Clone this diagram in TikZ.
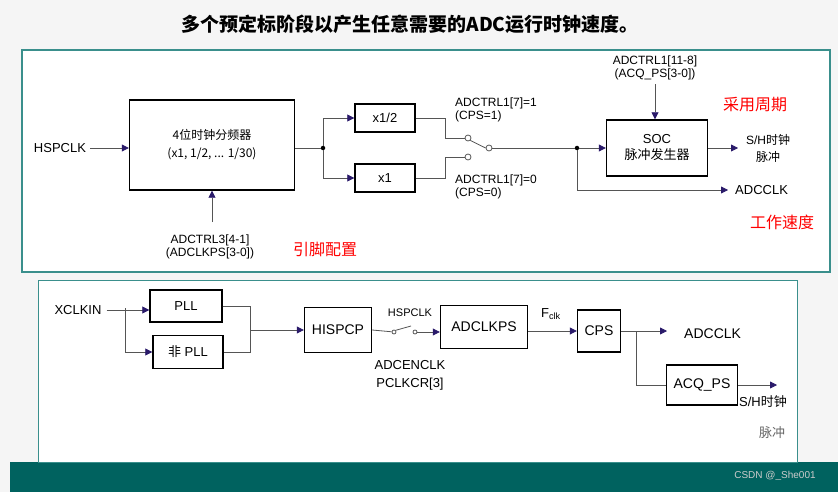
\documentclass[tikz,border=0pt]{standalone}
\usepackage{fontspec}
\setmainfont{Liberation Sans}
\newfontfamily\cjk{Noto Sans CJK SC}
\usetikzlibrary{arrows.meta}
\definecolor{teal1}{HTML}{3A8F8C}
\definecolor{bar}{HTML}{00625F}
\definecolor{navy}{HTML}{2A1A6A}
\definecolor{wire}{HTML}{555555}
\begin{document}
\begin{tikzpicture}[x=1pt,y=-1pt,
  blk/.style={draw=black,line width=1.4pt,fill=white,inner sep=0pt},
  wl/.style={draw=wire,line width=0.8pt},
  ar/.style={wl,-{Triangle[length=7pt,width=7pt,color=navy]}},
  lbl/.style={font=\fontsize{12}{13}\selectfont,inner sep=0pt},
  red/.style={font=\cjk\fontsize{16}{17}\selectfont,text=red,inner sep=0pt},
  dot/.style={circle,fill=black,inner sep=0pt,minimum size=4.5pt},
  sw/.style={circle,draw=wire,fill=white,line width=0.8pt,inner sep=0pt,minimum size=6pt}]
\fill[gray!8] (0,0) rectangle (838,492);
\fill[bar] (10,462) rectangle (838,492);
\node[text=gray!40,font=\fontsize{10}{11}\selectfont] (wm) at (775,476) {CSDN @\_She001};
\node[font=\cjk\bfseries\fontsize{19}{20}\selectfont] (title) at (410,24) {多个预定标阶段以产生任意需要的ADC运行时钟速度。};
\draw[teal1,line width=1.3pt,fill=white] (22,50) rectangle (830,272);
\draw[teal1,line width=1pt,fill=white] (38,280) rectangle (797,462);
% ---- top
\node[lbl,font=\fontsize{13}{14}\selectfont] (hsp) at (60,148) {HSPCLK};
\node[blk,minimum width=165pt,minimum height=90pt,align=center,font=\cjk\fontsize{12}{18}\selectfont] (div) at (212,145) {4位时钟分频器\\(x1, 1/2, ... 1/30)};
\draw[ar] (hsp.east) ++(4,0) -- (div.west|-hsp);
\node[lbl,align=center] (c3) at (210,247) {ADCTRL3[4-1]\\(ADCLKPS[3-0])};
\coordinate (c3t) at (212,222);
\draw[ar] (c3t) -- (div.south);
\node[red] (r1) at (325,249) {引脚配置};
\node[dot] (d1) at (323,148) {};
\node[blk,minimum width=60pt,minimum height=28pt,font=\fontsize{13}{14}\selectfont] (half) at (385,118) {x1/2};
\node[blk,minimum width=60pt,minimum height=28pt,font=\fontsize{13}{14}\selectfont] (one) at (385,178) {x1};
\draw[wl] (div.east|-d1) -- (d1);
\draw[ar] (d1) |- (half.west);
\draw[ar] (d1) |- (one.west);
\node[sw] (s1) at (468,138) {};
\node[sw] (s0) at (468,157) {};
\node[sw] (sp) at (489,148) {};
\draw[wl] (half.east) -| (445,138) -- (s1);
\draw[wl] (one.east) -| (445,157) -- (s0);
\draw[wl] (s1.south east) -- (sp.west);
\node[lbl,align=left,anchor=west] (l1) at (455,110) {ADCTRL1[7]=1\\(CPS=1)};
\node[lbl,align=left,anchor=west] (l0) at (455,187) {ADCTRL1[7]=0\\(CPS=0)};
\node[dot] (d2) at (577,148) {};
\node[blk,minimum width=101pt,minimum height=56pt,align=center,font=\fontsize{13}{16}\selectfont] (soc) at (657,148) {SOC\\{\cjk 脉冲发生器}};
\draw[wl] (sp) -- (d2);
\draw[ar] (d2) -- (soc.west);
\coordinate (adcend) at (728,190);
\draw[ar] (d2) |- (adcend);
\node[lbl,anchor=west,font=\fontsize{13}{14}\selectfont] (adcclk1) at (735,190) {ADCCLK};
\node[lbl,align=center] (c1) at (655,68) {ADCTRL1[11-8]\\(ACQ\_PS[3-0])};
\draw[ar] (c1.south) ++(0,4) -- (soc.north-|c1);
\node[red] (r2) at (755,105) {采用周期};
\coordinate (shend) at (738,148);
\draw[ar] (soc.east) -- (shend);
\node[lbl,align=center,font=\fontsize{12}{17}\selectfont] (sh1) at (768,148) {S/H{\cjk 时钟}\\{\cjk 脉冲}};
\node[red] (r3) at (782,222) {工作速度};
% ---- bottom
\node[lbl,font=\fontsize{13}{14}\selectfont] (xcl) at (78,310) {XCLKIN};
\node[blk,minimum width=72pt,minimum height=32pt,font=\fontsize{13}{14}\selectfont] (pll) at (186,306) {PLL};
\node[blk,minimum width=70pt,minimum height=33pt,font=\fontsize{13}{14}\selectfont] (npll) at (188,352) {{\cjk 非} PLL};
\coordinate (br) at (125,308);
\draw[wl] (xcl.east) ++(5,0) coordinate (xs) -- (xs-|br);
\draw[ar] (xs-|br) -- (pll.west|-xs);
\draw[ar] (br) |- (npll.west);
\node[blk,minimum width=67pt,minimum height=45pt,font=\fontsize{14}{15}\selectfont] (hiscp) at (338,330) {HISPCP};
\draw[wl] (pll.east) -- ++(28,0) coordinate (m1) -- (m1|-npll) -- (npll.east);
\draw[ar] (m1|-hiscp) -- (hiscp.west);
\node[sw,minimum size=4pt] (sa) at (394,332) {};
\node[sw,minimum size=4pt] (sb) at (415,332) {};
\node[blk,minimum width=87pt,minimum height=43pt,font=\fontsize{14}{15}\selectfont] (adkp) at (484,327) {ADCLKPS};
\draw[wl] (hiscp.east) -- (sa);
\draw[wl] (sa.north east) -- (411,326);
\draw[ar] (sb) -- (adkp.west|-sb);
\node[lbl,font=\fontsize{11}{12}\selectfont] (hs2) at (410,313) {HSPCLK};
\node[lbl,align=center,font=\fontsize{13}{18}\selectfont] (aden) at (410,375) {ADCENCLK\\PCLKCR[3]};
\node[blk,minimum width=43pt,minimum height=42pt,font=\fontsize{14}{15}\selectfont] (cps) at (599,331) {CPS};
\draw[ar] (adkp.east|-cps) -- (cps.west);
\node[lbl,font=\fontsize{13}{14}\selectfont] (fclk) at (551,314) {F$_{\mathrm{clk}}$};
\coordinate (ae2) at (667,331);
\draw[ar] (cps.east) -- (ae2);
\node[lbl,anchor=west,font=\fontsize{14}{15}\selectfont] (adcclk2) at (684,334) {ADCCLK};
\node[blk,minimum width=71pt,minimum height=40pt,font=\fontsize{14}{15}\selectfont] (acq) at (702,385) {ACQ\_PS};
\draw[wl] (636,331) |- (acq.west);
\coordinate (se2) at (777,385);
\draw[ar] (acq.east) -- (se2);
\node[lbl,anchor=west,font=\fontsize{13}{14}\selectfont] (sh2) at (739,402) {S/H{\cjk 时钟}};
\node[lbl,font=\cjk\fontsize{13}{14}\selectfont,text=gray!80!black] (sh3) at (772,433) {脉冲};
\end{tikzpicture}
\end{document}
